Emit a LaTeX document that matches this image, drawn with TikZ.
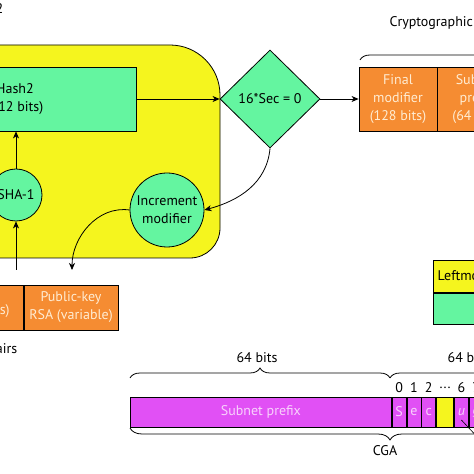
\documentclass[tikz,border=0pt]{standalone}
\usepackage{fontspec}
\setmainfont{PT Sans}
\usetikzlibrary{shapes.geometric,arrows.meta,decorations.pathreplacing}
\definecolor{cy}{RGB}{245,245,30}
\definecolor{cg}{RGB}{100,245,160}
\definecolor{co}{RGB}{245,140,50}
\definecolor{cm}{RGB}{225,80,245}
\definecolor{tco}{RGB}{255,236,210}
\definecolor{tcm}{RGB}{248,210,252}
\begin{document}
\begin{tikzpicture}[x=1pt,y=1pt,line width=0.8pt,
  every node/.style={font=\fontsize{14}{18}\selectfont},
  arr/.style={-{Stealth[length=7pt,width=6pt,inset=2pt]}},
  gbox/.style={draw,fill=cg,inner sep=0pt,align=center},
  obox/.style={draw,fill=co,text=tco,inner sep=0pt,align=center,minimum height=64pt},
  cell/.style={draw,fill=cm,text=tcm,minimum width=14pt,minimum height=30pt,inner sep=0pt,anchor=west},
  bracedeco/.style={decorate,decoration={brace,amplitude=#1}}
]
\useasboundingbox (0,0) rectangle (474,474);
\clip (0,0) rectangle (474,474);
% yellow region
\draw[fill=cy] (-20,429) -- (170,429) arc[start angle=90,end angle=0,radius=50pt]
  -- (220,246) arc[start angle=0,end angle=-90,radius=30pt] -- (-20,216) -- cycle;
\node[anchor=east] (lbl2) at (7,465) {2};
\node[gbox,minimum width=242pt,minimum height=64pt] (hash) at (15,375) {Hash2\\(112 bits)};
\node[gbox,circle,minimum size=52pt] (sha) at (16,279) {SHA-1};
\coordinate (shain) at (16,204);
\node[gbox,diamond,minimum width=100pt,minimum height=98pt] (dia) at (270,375) {16*Sec = 0};
\node[obox,minimum width=78pt] (fm) at (398,375) {Final\\modifier\\(128 bits)};
\node[obox,minimum width=78pt,anchor=west] (sp) at (fm.east) {Subnet\\prefix\\(64 bits)};
\node[anchor=west] (crypto) at (386,451) {Cryptographic};
\draw[bracedeco=10pt] (360,414) -- (640,414);
\node[gbox,circle,minimum size=74pt] (inc) at (167,264) {Increment\\modifier};
\coordinate (pkin) at (72,204);
\node[obox,minimum width=94pt,minimum height=45pt] (pk) at (71,166.5) {Public-key\\RSA (variable)};
\node[obox,minimum width=76pt,minimum height=45pt,anchor=east] (zero) at (pk.west) {\mbox{}\\(72 bits)};
\node[anchor=east] (pairs) at (21,124) {Key pairs};
% legend
\node[draw,fill=cy,minimum width=80pt,minimum height=32pt,anchor=north west,inner sep=0pt] (leg1) at (433,214) {};
\node[anchor=west] (leg1t) at (434,198) {Leftmost};
\node[draw,fill=cg,minimum width=80pt,minimum height=31pt,anchor=north west,inner sep=0pt] (leg2) at (leg1.south west) {};
% arrows
\draw[arr] (hash.east) -- (dia.west);
\draw[arr] (dia.east) -- (fm.west);
\draw[arr] (sha.north) -- (sha.north |- hash.south);
\draw[arr] (shain) -- (sha.south);
\draw[arr] (dia.south) to[out=-95,in=15] (inc.east);
\draw[arr] (inc.west) to[out=172,in=90] (pkin);
% CGA bar
\node (b64a) at (257,116) {64 bits};
\node[anchor=west] (b64b) at (444,116) {64 bits};
\node[cell,minimum width=261pt] (pref) at (130,62) {Subnet prefix};
\node[cell] (s) at (pref.east) {S};
\node[cell] (e) at (s.east) {e};
\node[cell] (c) at (e.east) {c};
\node[cell,fill=cy,minimum width=17pt] (ys) at (c.east) {};
\node[cell] (u) at (ys.east) {\itshape u};
\node[cell] (g) at (u.east) {\itshape g};
\node[cell,minimum width=200pt] (rest) at (g.east) {};
\node (n0) at ([yshift=24pt]s.center) {0};
\node (n1) at ([yshift=24pt]e.center) {1};
\node (n2) at ([yshift=24pt]c.center) {2};
\node (nd) at ([yshift=24pt]ys.center) {...};
\node (n6) at ([yshift=24pt]u.center) {6};
\node (n7) at ([yshift=24pt]g.center) {7};
\coordinate (uout) at (482,32);
\draw[line width=0.6pt] ([yshift=-8pt]u.center) -- (uout);
\draw[bracedeco=10pt] (130,96) -- (390,96);
\draw[bracedeco=10pt] (390,96) -- (650,96);
\draw[bracedeco=12pt] (650,46) -- (130,46);
\node (cga) at (385,23) {CGA};
\end{tikzpicture}
\end{document}
